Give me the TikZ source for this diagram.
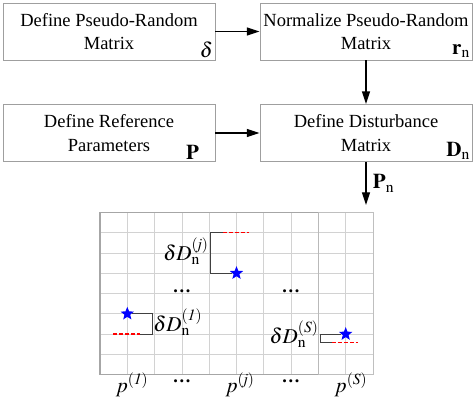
\documentclass[tikz,border=0pt]{standalone}
\usepackage{mathptmx}
\usepackage{fontspec}
\setmainfont{Liberation Serif}
\usetikzlibrary{arrows.meta, positioning, calc, shapes.geometric}

\begin{document}
\begin{tikzpicture}[
        x=0.03cm, y=-0.03cm,
        font=\fontsize{15.8}{20}\selectfont,
        box/.style={draw=gray!75, line width=0.8pt, fill=white, minimum width=6.36cm, minimum height=1.71cm, align=center, inner sep=0pt},
        corner/.style={anchor=south east, inner sep=2pt, font=\fontsize{18}{20}\selectfont},
        flow/.style={-{Triangle[length=3.8mm, width=2.4mm]}, line width=1.1pt},
        gridline/.style={gray!35, line width=0.6pt},
        frame/.style={gray!70, line width=0.9pt},
        starpt/.style={star, star points=5, star point ratio=2.3, fill=blue, draw=none, minimum size=0.42cm, inner sep=0pt},
        refline/.style={red, line width=1.2pt, dash pattern=on 1.2mm off 0.6mm},
        brk/.style={gray!50!black, line width=0.8pt},
        lbl/.style={inner sep=1pt, font=\fontsize{18}{20}\selectfont}
    ]
    \useasboundingbox (0,0) rectangle (474,398);

    % flow chart
    \node[box] (prm) at (109,31.5) {Define Pseudo-Random\\Matrix};
    \node[box] (nrm) at (366,31.5) {Normalize Pseudo-Random\\Matrix};
    \node[box] (ref) at (109,133) {Define Reference\\Parameters};
    \node[box] (dst) at (366,133) {Define Disturbance\\Matrix};

    \node[corner] (lprm) at (prm.south east) {$\delta$};
    \node[corner] (lnrm) at (nrm.south east) {$\mathbf{r}_{\mathrm{n}}$};
    \node[corner] (lref) at ($(ref.south east)+(-14,0)$) {$\mathbf{P}$};
    \node[corner] (ldst) at (dst.south east) {$\mathbf{D}_{\mathrm{n}}$};

    \coordinate (gtop) at (366,205);
    \draw[flow] (prm) -- (nrm);
    \draw[flow] (nrm) -- (dst);
    \draw[flow] (ref) -- (dst);
    \draw[flow] (dst) -- (gtop) node[midway, right=2pt, font=\fontsize{18}{20}\selectfont] (lpn) {$\mathbf{P}_{\mathrm{n}}$};

    % grid
    \foreach \i in {0,...,10}
        \draw[gridline] (100+27.3*\i,212.3) -- (100+27.3*\i,374.7);
    \foreach \j in {0,...,8}
        \draw[gridline] (100,212.3+20.3*\j) -- (373,212.3+20.3*\j);
    \draw[gridline, gray!50] (100,212.3) rectangle (373,374.7);
    \draw[frame] (318.4,212.3) -- (100,212.3) -- (100,374.7) -- (318.4,374.7);
    \draw[gridline, gray!55] (318.4,212.3) -- (318.4,374.7);

    % reference levels
    \coordinate (r1a) at (113,334.1);
    \coordinate (r1b) at (140,334.1);
    \coordinate (rja) at (223,232.6);
    \coordinate (rjb) at (249,232.6);
    \coordinate (rsa) at (331.7,342.5);
    \coordinate (rsb) at (358,342.5);
    \draw[refline] (r1a) -- (r1b);
    \draw[refline] (rja) -- (rjb);
    \draw[refline] (rsa) -- (rsb);

    % perturbed points
    \node[starpt] (s1) at (127.3,313.8) {};
    \node[starpt] (sj) at (236.5,273.2) {};
    \node[starpt] (ss) at (345.7,334.1) {};

    % brackets
    \coordinate (b1t) at (152,313.8);
    \coordinate (b1b) at (152,334.1);
    \coordinate (bjt) at (210.7,232.6);
    \coordinate (bjb) at (210.7,273.2);
    \coordinate (bst) at (320.7,334.1);
    \coordinate (bsb) at (320.7,342.5);
    \draw[brk] (s1) -- (b1t) -- (b1b) -- (r1b);
    \draw[brk] (rja) -- (bjt) -- (bjb) -- (sj);
    \draw[brk] (ss) -- (bst) -- (bsb) -- (rsa);

    \node[lbl, anchor=west] (d1) at (152,322) {$\delta D_{\mathrm{n}}^{(\mathit{1})}$};
    \node[lbl, anchor=east] (dj) at (210,251) {$\delta D_{\mathrm{n}}^{(\mathit{j})}$};
    \node[lbl, anchor=east] (ds) at (320,334) {$\delta D_{\mathrm{n}}^{(\mathit{S})}$};

    \node (dotsa) at (182,291) {\textbf{\dots}};
    \node (dotsb) at (291,291) {\textbf{\dots}};

    % axis labels
    \node[lbl] (p1) at (132,385) {$p^{(\mathit{1})}$};
    \node (dotsc) at (182,381) {\textbf{\dots}};
    \node[lbl] (pj) at (240,385) {$p^{(\mathit{j})}$};
    \node (dotsd) at (291,381) {\textbf{\dots}};
    \node[lbl] (ps) at (351,385) {$p^{(\mathit{S})}$};
\end{tikzpicture}
\end{document}
